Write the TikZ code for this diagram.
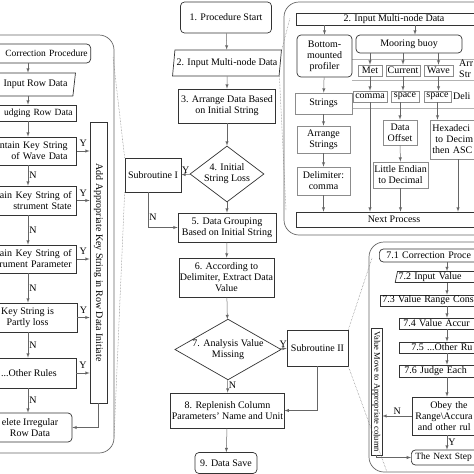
\documentclass[tikz,border=0pt]{standalone}
\usepackage{fontspec}
\setmainfont{Liberation Serif}
\usetikzlibrary{shapes.geometric}

\tikzset{
  box/.style={draw=black!80, line width=0.7pt, fill=white, align=center, inner sep=1pt, font=\fontsize{10}{11}\selectfont},
  sbox/.style={box, draw=black!45},
  rbox/.style={box, rounded corners=4pt},
  iobox/.style={box, trapezium, trapezium left angle=78, trapezium right angle=102, trapezium stretches=true},
  dec/.style={box, diamond, inner sep=0pt},
  flow/.style={->, draw=black!60, line width=0.5pt},
  lbl/.style={font=\fontsize{10}{11}\selectfont, inner sep=1pt},
  zoomline/.style={draw=black!55, densely dotted, line width=0.5pt},
  panel/.style={draw=black!60, line width=0.7pt, rounded corners=15pt},
  divider/.style={draw=black!30, line width=0.4pt},
}

\begin{document}
\begin{tikzpicture}[>=latex, x=1pt, y=-1pt]
    \useasboundingbox (0,0) rectangle (474,474);
    \clip (0,0) rectangle (474,474);

    % panels
    \draw[panel] (-30,35) rectangle (114,453); % subroutine I
    \draw[panel] (284,2) rectangle (520,235); % input data
    \draw[panel] (369,242) rectangle (520,472); % subroutine II

    % main flow
    \node[rbox, minimum width=91pt, minimum height=31pt] (start) at (226,17.5) {1. Procedure Start};
    \node[iobox, minimum width=109pt, minimum height=26pt] (in2) at (227,63) {2. Input Multi-node Data};
    \node[box, minimum width=97pt, minimum height=34pt] (arr3) at (227,106) {3. Arrange Data Based\\on Initial String};
    \node[dec, aspect=1.32, minimum width=74pt, minimum height=56pt] (d4) at (227,174) {4. Initial\\String Loss};
    \node[box, minimum width=56pt, minimum height=34pt] (sub1) at (153,175) {Subroutine I};
    \node[box, minimum width=98pt, minimum height=29pt] (grp5) at (227,227.5) {5. Data Grouping\\Based on Initial String};
    \node[box, minimum width=95pt, minimum height=39pt] (ext6) at (226.5,277.5) {6. According to\\Delimiter, Extract Data\\Value};
    \node[dec, aspect=1.75, minimum width=100pt, minimum height=57pt] (d7) at (228,349.5) {7. Analysis Value\\Missing};
    \node[box, minimum width=61pt, minimum height=36pt] (sub2) at (317.5,348) {Subroutine II};
    \node[box, minimum width=113pt, minimum height=35pt] (rep8) at (227.5,410.5) {8. Replenish Column\\Parameters' Name and Unit};
    \node[rbox, minimum width=62pt, minimum height=21pt] (save9) at (226,463) {9. Data Save};

    \draw[flow] (start) -- (in2);
    \draw[flow] (in2) -- (arr3);
    \draw[flow] (arr3) -- (d4);
    \draw[flow] (d4) -- node[lbl, above]{Y} (sub1);
    \draw[flow] ([xshift=-5pt]sub1.south) |- node[lbl, pos=0.35, right]{N} (grp5.west);
    \draw[flow] (d4) -- (grp5);
    \draw[flow] (grp5) -- (ext6);
    \draw[flow] (ext6) -- (d7);
    \draw[flow] (d7) -- node[lbl, above]{Y} (sub2);
    \draw[flow] (d7) -- node[lbl, right, pos=0.4]{N} (rep8);
    \draw[flow] (sub2.south) |- (rep8.east);
    \draw[flow] (rep8) -- (save9);

    % subroutine I
    \coordinate (lx) at (28,0);
    \node[rbox, anchor=east, text width=100pt, align=right, inner xsep=3pt, minimum height=19pt, font=\fontsize{9.5}{11}\selectfont] (lcorr) at (91,53.5) {Correction Procedure};
    \node[iobox, minimum width=80pt, minimum height=23pt] (lin) at (35.5,84.5) {Input Row Data};
    \node[box, anchor=east, text width=90pt, align=right, inner xsep=4pt, minimum height=16pt, font=\fontsize{9.5}{11}\selectfont] (ljudge) at (77,113) {udging Row Data};
    \node[box, anchor=east, text width=90pt, align=right, inner xsep=9pt, minimum height=28pt] (lwave) at (77,151) {ntain Key String\\of Wave Data};
    \node[box, anchor=east, text width=90pt, align=right, inner xsep=5pt, minimum height=29pt] (lstate) at (77,200.5) {ain Key String of\\strument State};
    \node[box, anchor=east, text width=90pt, align=right, inner xsep=5pt, minimum height=28pt] (lparam) at (77,259) {ain Key String of\\rument Parameter};
    \node[box, minimum width=99pt, minimum height=29pt] (lpart) at (27.5,317.5) {Key String is\\Partly loss};
    \node[box, minimum width=94pt, minimum height=30pt] (lother) at (29,373) {...Other Rules};
    \node[rbox, minimum width=84pt, minimum height=29pt] (ldel) at (30,427.5) {elete Irregular\\Row Data};
    \node[box, rotate=-90, minimum width=281pt, minimum height=17pt] (ladd) at (98.5,262.5) {Add Appropriate Key String in Row Data Initiate};

    \draw[flow] (lcorr.south -| lx) -- (lin.north -| lx);
    \draw[flow] (lin.south -| lx) -- (ljudge.north -| lx);
    \draw[flow] (ljudge.south -| lx) -- (lwave.north -| lx);
    \draw[flow] (lwave.south -| lx) -- node[lbl, right]{N} (lstate.north -| lx);
    \draw[flow] (lstate.south -| lx) -- node[lbl, right]{N} (lparam.north -| lx);
    \draw[flow] (lparam.south -| lx) -- node[lbl, right]{N} (lpart.north -| lx);
    \draw[flow] (lpart.south -| lx) -- node[lbl, right]{N} (lother.north -| lx);
    \draw[flow] (lother.south -| lx) -- node[lbl, right]{N} (ldel.north -| lx);
    \draw[flow] (lwave.east) -- node[lbl, above=3pt]{Y} (lwave.east -| ladd.south);
    \draw[flow] (lstate.east) -- node[lbl, above=3pt]{Y} (lstate.east -| ladd.south);
    \draw[flow] (lparam.east) -- node[lbl, above=3pt]{Y} (lparam.east -| ladd.south);
    \draw[flow] (lpart.east) -- node[lbl, above=3pt]{Y} (lpart.east -| ladd.south);
    \draw[flow] (lother.east) -- node[lbl, above=3pt]{Y} (lother.east -| ladd.south);
    \draw[flow] (ladd.east) |- (ldel.east);

    % input multi-node data
    \draw[divider] (352,59) -- (474,59);
    \draw[divider] (352,80) -- (474,80);
    \draw[divider] (352,108) -- (474,108);
    \coordinate (tbx) at (415,0);
    \coordinate (thx) at (458,0);
    \node[box, minimum width=196pt, minimum height=12pt] (thead) at (394,19) {2. Input Multi-node Data};
    \node[rbox, minimum width=55pt, minimum height=42pt] (tprof) at (324.5,56) {Bottom-\\mounted\\profiler};
    \node[rbox, minimum width=106pt, minimum height=18pt] (tbuoy) at (409,44) {Mooring buoy};
    \node[sbox, minimum width=24pt, minimum height=11pt] (tmet) at (370,70.5) {Met};
    \node[sbox, minimum width=34pt, minimum height=11pt] (tcur) at (403,70.5) {Current};
    \node[sbox, minimum width=29pt, minimum height=11pt] (twave) at (438.5,70.5) {Wave};
    \node[lbl, anchor=west, align=left] (tarrlbl) at (458,69) {Arr\\Str};
    \node[sbox, minimum width=34pt, minimum height=11pt] (tcomma) at (370,96.5) {comma};
    \node[sbox, minimum width=28pt, minimum height=11pt] (tspa) at (405,96.5) {space};
    \node[sbox, minimum width=27pt, minimum height=11pt] (tspb) at (437.5,96.5) {space};
    \node[lbl, anchor=west] (tdellbl) at (452,96.5) {Deli};
    \node[sbox, minimum width=57pt, minimum height=21pt] (tstr) at (323.5,103.5) {Strings};
    \node[sbox, minimum width=53pt, minimum height=27pt] (tarr) at (323.5,139.5) {Arrange\\Strings};
    \node[sbox, minimum width=53pt, minimum height=28pt] (tdlm) at (323.5,181) {Delimiter:\\comma};
    \node[sbox, minimum width=34pt, minimum height=25pt] (toff) at (400,132.5) {Data\\Offset};
    \node[sbox, minimum width=55pt, minimum height=26pt] (tlit) at (400.5,175) {Little Endian\\to Decimal};
    \node[sbox, anchor=west, text width=60pt, align=left, inner xsep=2pt, minimum height=39pt] (thex) at (430,139.5) {Hexadeci\\\hspace*{3pt}to Decim\\then ASC};
    \node[box, minimum width=196pt, minimum height=15pt] (tnext) at (394,219.5) {Next Process};

    \draw[flow] (thead.south -| tprof.north) -- (tprof.north);
    \draw[flow] (thead.south -| tbx) -- (tbuoy.north -| tbx);
    \draw[flow] (tbuoy.south -| tmet) -- (tmet);
    \draw[flow] (tbuoy.south -| tcur) -- (tcur);
    \draw[flow] (tbuoy.south -| twave) -- (twave);
    \draw[flow] (tmet) -- (tcomma);
    \draw[flow] (tcur.south) -- (tcur.south |- tspa.north);
    \draw[flow] (twave.south) -- (twave.south |- tspb.north);
    \draw[flow] (tprof) -- (tstr);
    \draw[flow] (tstr) -- (tarr);
    \draw[flow] (tarr) -- (tdlm);
    \draw[flow] (tdlm) -- (tdlm |- tnext.north);
    \draw[flow] (tcomma) -- (tcomma |- tnext.north);
    \draw[flow] (toff.north |- tspa.south) -- (toff);
    \draw[flow] (toff) -- (tlit);
    \draw[flow] (tlit) -- (tlit |- tnext.north);
    \draw[flow] (tspb.south) -- (tspb.south |- thex.north);
    \draw[flow] (thex.south -| thx) -- (tnext.north -| thx);

    % subroutine II
    \coordinate (rx) at (447,0);
    \node[rbox, anchor=west, text width=100pt, align=left, inner xsep=7pt, minimum height=13pt] (r71) at (379,255.5) {7.1 Correction Proce};
    \node[iobox, anchor=west, text width=90pt, align=left, minimum height=11pt] (r72) at (396,277) {7.2 Input Value};
    \node[box, anchor=west, text width=100pt, align=left, inner xsep=2pt, minimum height=11pt] (r73) at (380,300.5) {7.3 Value Range Cons};
    \node[box, anchor=west, text width=90pt, align=left, inner xsep=4pt, minimum height=11pt] (r74) at (399,323.5) {7.4 Value Accur};
    \node[box, anchor=west, text width=80pt, align=left, inner xsep=12pt, minimum height=11pt] (r75) at (399,347.5) {7.5 ...Other Ru};
    \node[box, anchor=west, text width=90pt, align=left, inner xsep=5pt, minimum height=12pt] (r76) at (399,371) {7.6 Judge Each};
    \node[box, anchor=west, text width=70pt, align=left, inner xsep=3pt, minimum height=38pt] (robey) at (412,416) {\hspace*{15pt}Obey the\\Range\textbackslash Accura\\\hspace*{2.5pt}and other rul};
    \node[rbox, anchor=west, text width=70pt, align=left, inner xsep=4pt, minimum height=15pt, font=\fontsize{9.5}{11}\selectfont] (rnext) at (411,457.5) {The Next Step};
    \node[box, rotate=-90, font=\fontsize{8.5}{9}\selectfont, minimum width=127pt, minimum height=11pt] (rvert) at (376.5,391.5) {Value Move to Appropriate column};

    \draw[flow] (r71.south -| rx) -- (r72.north -| rx);
    \draw[flow] (r72.south -| rx) -- (r73.north -| rx);
    \draw[flow] (r73.south -| rx) -- (r74.north -| rx);
    \draw[flow] (r74.south -| rx) -- (r75.north -| rx);
    \draw[flow] (r75.south -| rx) -- (r76.north -| rx);
    \draw[flow] (r76.south -| rx) -- (robey.north -| rx);
    \draw[flow] (robey.south -| rx) -- node[lbl, right]{Y} (rnext.north -| rx);
    \draw[flow] (robey.west) -- node[lbl, above]{N} (robey.west -| rvert.north);
    \draw[flow] (rvert.east) |- (rnext.west);

    % zoom lines
    \coordinate (tzt) at (290,18);
    \coordinate (tzb) at (286,210);
    \coordinate (lzt) at (113,57);
    \coordinate (lzb) at (114,438);
    \coordinate (rzt) at (372,258);
    \coordinate (rzb) at (387,472);
    \draw[zoomline] (in2.top right corner) -- (tzt);
    \draw[zoomline] (in2.bottom right corner) -- (tzb);
    \draw[zoomline] (sub1.north west) -- (lzt);
    \draw[zoomline] (sub1.south west) -- (lzb);
    \draw[zoomline] (sub2.north east) -- (rzt);
    \draw[zoomline] (sub2.south east) -- (rzb);
\end{tikzpicture}
\end{document}
